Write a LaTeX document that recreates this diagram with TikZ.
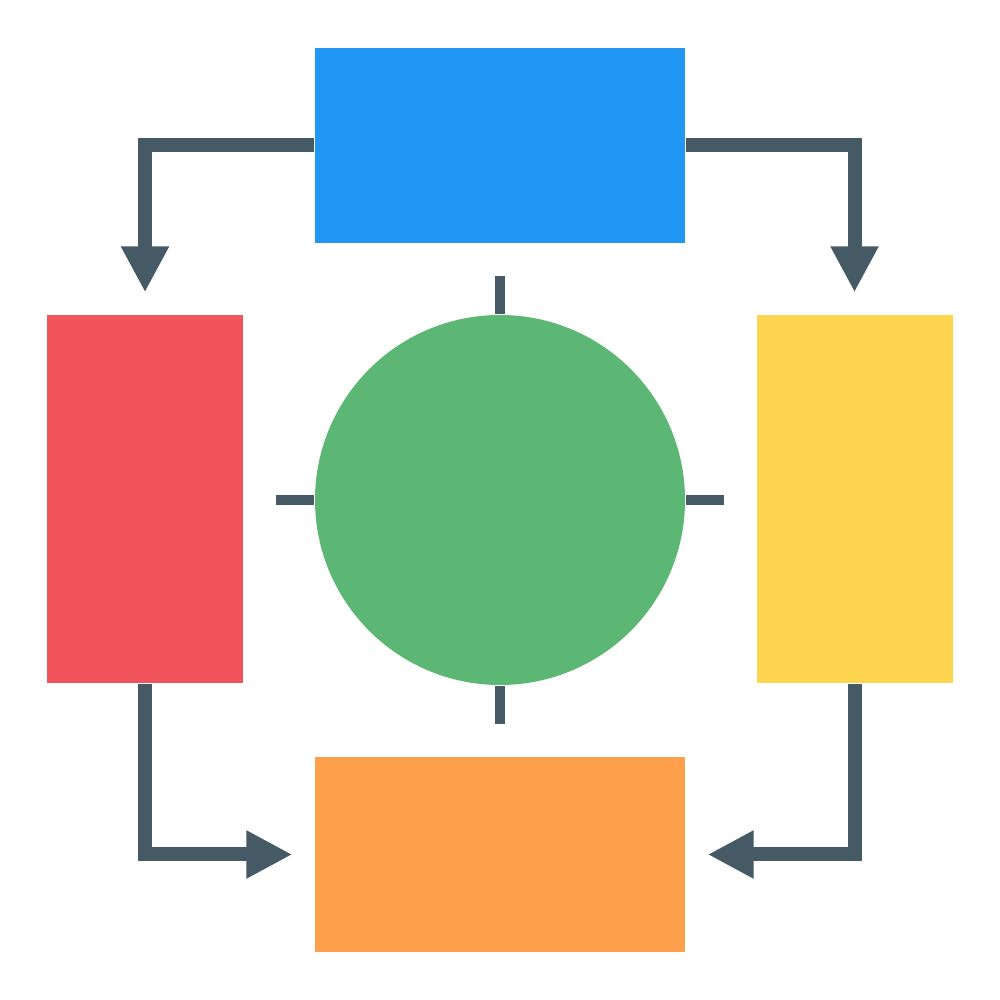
\documentclass[tikz,border=0pt]{standalone}
\usepackage{tikz}
\usetikzlibrary{arrows.meta,positioning,calc}
\definecolor{boxblue}{RGB}{33,150,243}
\definecolor{boxred}{RGB}{242,84,91}
\definecolor{boxyellow}{RGB}{255,213,79}
\definecolor{boxorange}{RGB}{255,160,77}
\definecolor{hubgreen}{RGB}{93,183,116}
\definecolor{slate}{RGB}{69,90,100}
\begin{document}
\begin{tikzpicture}[scale=1,
    wide/.style={rectangle, inner sep=0, minimum width=3.7cm, minimum height=1.95cm},
    tall/.style={rectangle, inner sep=0, minimum width=1.96cm, minimum height=3.68cm},
    link/.style={draw=slate, line width=1.4mm, -{Triangle[length=4.6mm,width=4.5mm]}, shorten >=2.2mm},
    tick/.style={draw=slate, line width=1mm}]
    \useasboundingbox (0,0) rectangle (10,10);

    \node [wide, fill=boxblue] (blue) at (5,8.545) {};
    \node [tall, fill=boxred] (red) at (1.45,5.01) {};
    \node [tall, fill=boxyellow] (yellow) at (8.545,5.01) {};
    \node [wide, fill=boxorange] (orange) at (5,1.455) {};
    \node [circle, inner sep=0, minimum size=3.7cm, fill=hubgreen] (hub) at (5,5) {};

    % ticks round the hub
    \foreach \a in {0,90,180,270}
        \draw [tick] (hub.\a) -- ++(\a:0.38);

    \draw [link] (blue.west) -| (red.north);
    \draw [link] (blue.east) -| (yellow.north);
    \draw [link] (red.south) |- (orange.west);
    \draw [link] (yellow.south) |- (orange.east);
  \end{tikzpicture}
\end{document}
